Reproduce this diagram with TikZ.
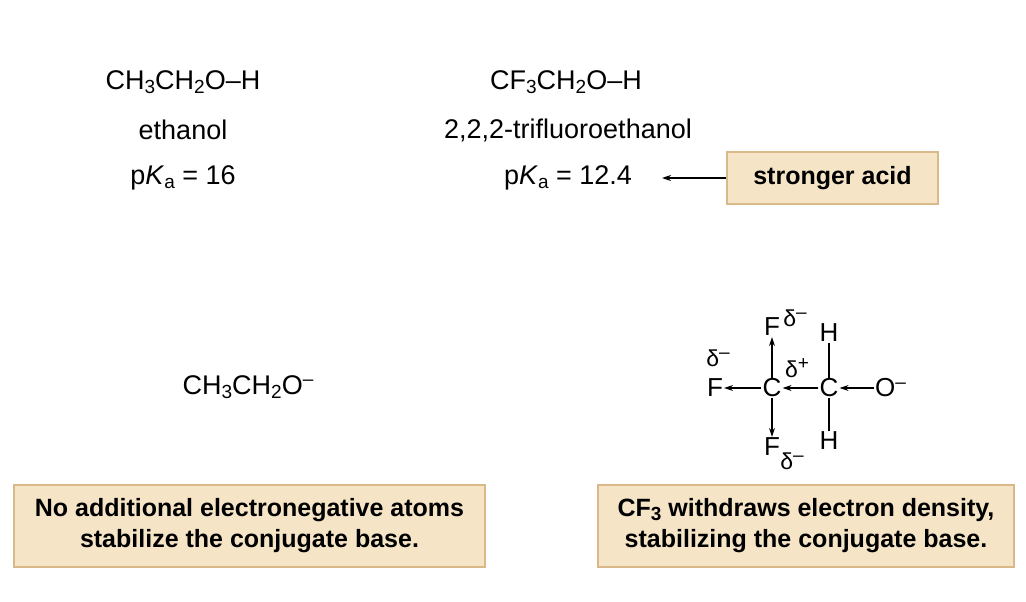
\documentclass[tikz,border=0pt]{standalone}
\usepackage{fontspec}
\setmainfont{Liberation Sans}
\usetikzlibrary{arrows.meta}
\newcommand{\sbs}[1]{\raisebox{-0.3ex}{\fontsize{19}{20}\selectfont #1}}
\newcommand{\sps}[1]{\raisebox{0.6ex}{\fontsize{19}{20}\selectfont #1}}
\begin{document}
\begin{tikzpicture}[x=1pt,y=-1pt,
  t/.style={inner sep=1pt,font=\fontsize{27}{30}\selectfont},
  a/.style={inner sep=1pt,font=\fontsize{26}{28}\selectfont},
  dl/.style={inner sep=0pt,font=\fontsize{23}{24}\selectfont},
  box/.style={draw=boxedge,fill=boxfill,line width=1.5pt,font=\bfseries\fontsize{25}{31}\selectfont,align=center,inner sep=0pt},
  arr/.style={-{Stealth[length=9pt,width=6pt]},line width=1.1pt}]
\definecolor{boxfill}{HTML}{F5E5C6}
\definecolor{boxedge}{HTML}{D9B98A}
\useasboundingbox (0,0) rectangle (1026,602);
\node[t] (m1) at (183,82) {CH\sbs{3}CH\sbs{2}O--H};
\node[t] (n1) at (183,130) {ethanol};
\node[t] (p1) at (183,178) {p\textit{K}\sbs{a} = 16};
\node[t] (m2) at (566,82) {CF\sbs{3}CH\sbs{2}O--H};
\node[t] (n2) at (568,130) {2,2,2-trifluoroethanol};
\node[t] (p2) at (568,178) {p\textit{K}\sbs{a} = 12.4};
\node[box,minimum width=211pt,minimum height=52pt] (sa) at (832.5,178) {stronger acid};
\draw[arr] (sa.west) -- (662,178);
\node[t] (b1) at (248,387) {CH\sbs{3}CH\sbs{2}O\sps{–}};
\node[box,minimum width=471pt,minimum height=82pt] (l) at (249.5,526) {No additional electronegative atoms\\stabilize the conjugate base.};
\node[box,minimum width=416pt,minimum height=82pt] (r) at (806,526) {CF\sbs{3} withdraws electron density,\\stabilizing the conjugate base.};
% structure
\node[a] (fl) at (715,388) {F};
\node[a] (c1) at (772,388) {C};
\node[a] (c2) at (829,388) {C};
\node[a,anchor=west] (o) at (874,388) {O\sps{–}};
\node[a] (ft) at (772,327) {F};
\node[a] (fb) at (772,447) {F};
\node[a] (ht) at (829,333) {H};
\node[a] (hb) at (829,441) {H};
\node[dl] (d1) at (795,318) {δ\sps{–}};
\node[dl] (d2) at (718,358) {δ\sps{–}};
\node[dl] (d3) at (797,368) {δ\sps{+}};
\node[dl] (d4) at (792,461) {δ\sps{–}};
\draw[arr] (c1) -- (fl);
\draw[arr] (c2) -- (c1);
\draw[arr] (o.west) -- (c2);
\draw[arr] (c1) -- (ft);
\draw[arr] (c1) -- (fb);
\draw[line width=1.1pt] (c2) -- (ht);
\draw[line width=1.1pt] (c2) -- (hb);
\end{tikzpicture}
\end{document}
